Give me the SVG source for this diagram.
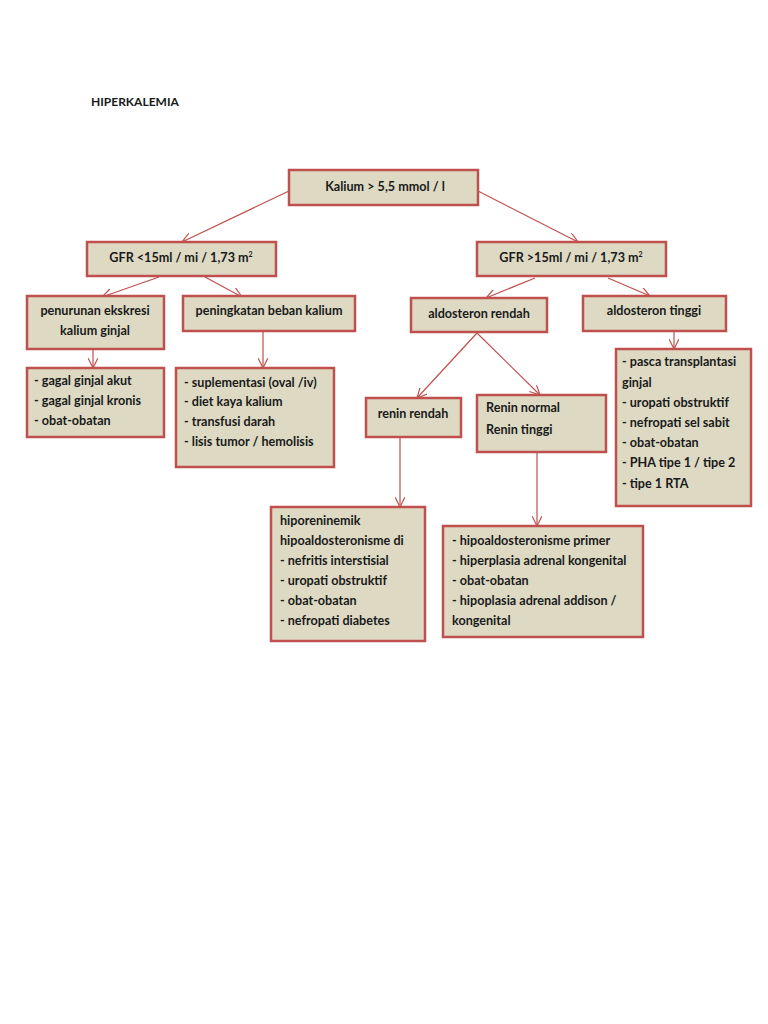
<svg xmlns="http://www.w3.org/2000/svg" width="768" height="1024" viewBox="0 0 768 1024">
<defs>
<style>
.box{fill:#ddd9c3;stroke:#c0504d;stroke-width:2.5}
text{font-family:Lato,"Liberation Sans",sans-serif;font-size:12.6px;font-weight:bold;fill:#1a1a1a}
.c{text-anchor:middle}
.ln{stroke:#c0504d;stroke-width:1.2;fill:none;marker-end:url(#ah)}
</style>
<marker id="ah" viewBox="0 0 10 10" refX="10" refY="5" markerWidth="10" markerHeight="10" markerUnits="userSpaceOnUse" orient="auto">
<path d="M0,0 L10,5 L0,10" fill="none" stroke="#c0504d" stroke-width="1.2"/>
</marker>
</defs>
<rect width="768" height="1024" fill="#ffffff"/>
<text x="91" y="106" style="font-size:12px">HIPERKALEMIA</text>

<g id="connectors">
<line class="ln" x1="289" y1="191" x2="182" y2="242"/>
<line class="ln" x1="478" y1="191" x2="578" y2="242"/>
<line class="ln" x1="159" y1="277" x2="102" y2="297"/>
<line class="ln" x1="205" y1="277" x2="242" y2="297"/>
<line class="ln" x1="535" y1="278" x2="486" y2="298"/>
<line class="ln" x1="608" y1="278" x2="650" y2="296"/>
<line class="ln" x1="477" y1="333" x2="417" y2="398"/>
<line class="ln" x1="477" y1="333" x2="540" y2="395"/>
<line class="ln" x1="674" y1="331" x2="674" y2="349"/>
<line class="ln" x1="93" y1="349" x2="93" y2="368"/>
<line class="ln" x1="263" y1="331" x2="263" y2="368"/>
<line class="ln" x1="400" y1="437" x2="400" y2="507"/>
<line class="ln" x1="537" y1="452" x2="537" y2="526"/>
</g>

<g id="kalium">
<rect class="box" x="289" y="170" width="189" height="35"/>
<text class="c" x="385" y="191">Kalium &gt; 5,5 mmol / l</text>
</g>
<g id="gfr-low">
<rect class="box" x="87" y="242" width="189" height="34"/>
<text class="c" x="181" y="262">GFR &lt;15ml / mi / 1,73 m<tspan dy="-5" style="font-size:7px">2</tspan></text>
</g>
<g id="gfr-high">
<rect class="box" x="477" y="242" width="189" height="34"/>
<text class="c" x="571" y="262">GFR &gt;15ml / mi / 1,73 m<tspan dy="-5" style="font-size:7px">2</tspan></text>
</g>
<g id="penurunan">
<rect class="box" x="27" y="296" width="137" height="53"/>
<text class="c" x="95" y="315">penurunan ekskresi</text>
<text class="c" x="95" y="335">kalium ginjal</text>
</g>
<g id="peningkatan">
<rect class="box" x="183" y="296" width="172" height="35"/>
<text class="c" x="269" y="315">peningkatan beban kalium</text>
</g>
<g id="aldo-rendah">
<rect class="box" x="411" y="298" width="136" height="34"/>
<text class="c" x="479" y="318">aldosteron rendah</text>
</g>
<g id="aldo-tinggi">
<rect class="box" x="583" y="296" width="143" height="35"/>
<text class="c" x="654" y="315">aldosteron tinggi</text>
</g>
<g id="gagal">
<rect class="box" x="27" y="368" width="137" height="69"/>
<text x="34" y="385">- gagal ginjal akut</text>
<text x="34" y="405">- gagal ginjal kronis</text>
<text x="34" y="425">- obat-obatan</text>
</g>
<g id="suplementasi">
<rect class="box" x="176" y="368" width="158" height="99"/>
<text x="184" y="387">- suplementasi (oval /iv)</text>
<text x="184" y="406">- diet kaya kalium</text>
<text x="184" y="426">- transfusi darah</text>
<text x="184" y="446">- lisis tumor / hemolisis</text>
</g>
<g id="renin-rendah">
<rect class="box" x="366" y="398" width="95" height="39"/>
<text class="c" x="413" y="418">renin rendah</text>
</g>
<g id="renin-normal">
<rect class="box" x="477" y="395" width="129" height="57"/>
<text x="486" y="412">Renin normal</text>
<text x="486" y="434">Renin tinggi</text>
</g>
<g id="pasca">
<rect class="box" x="616" y="349" width="135" height="157"/>
<text x="622" y="366">- pasca transplantasi</text>
<text x="622" y="387">ginjal</text>
<text x="622" y="407">- uropati obstruktif</text>
<text x="622" y="427">- nefropati sel sabit</text>
<text x="622" y="447">- obat-obatan</text>
<text x="622" y="467">- PHA tipe 1 / tipe 2</text>
<text x="622" y="488">- tipe 1 RTA</text>
</g>
<g id="hiporeninemik">
<rect class="box" x="271" y="507" width="154" height="134"/>
<text x="280" y="525">hiporeninemik</text>
<text x="280" y="545">hipoaldosteronisme di</text>
<text x="280" y="565">- nefritis interstisial</text>
<text x="280" y="585">- uropati obstruktif</text>
<text x="280" y="605">- obat-obatan</text>
<text x="280" y="625">- nefropati diabetes</text>
</g>
<g id="hipoaldo">
<rect class="box" x="443" y="526" width="200" height="111"/>
<text x="452" y="545">- hipoaldosteronisme primer</text>
<text x="452" y="565">- hiperplasia adrenal kongenital</text>
<text x="452" y="585">- obat-obatan</text>
<text x="452" y="605">- hipoplasia adrenal addison /</text>
<text x="452" y="625">kongenital</text>
</g>
</svg>
